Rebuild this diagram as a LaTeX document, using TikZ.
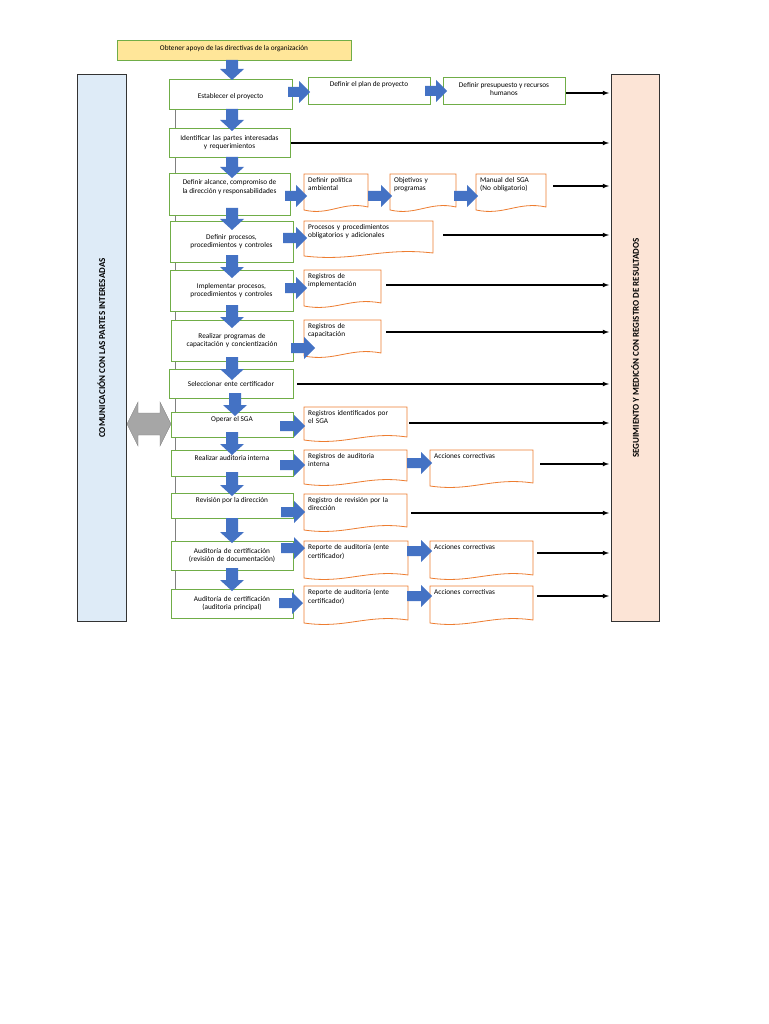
\documentclass[tikz,border=0pt]{standalone}
\usepackage{fontspec}
\setmainfont{Carlito}
\begin{document}
\hyphenpenalty=10000
\begin{tikzpicture}[x=1pt,y=-1pt,
  every node/.style={font=\fontsize{7.3}{8.6}\selectfont,inner sep=1pt}]
\useasboundingbox (0,0) rectangle (768,1024);
\definecolor{bl}{RGB}{68,114,196}
\definecolor{gr}{RGB}{112,173,71}
\definecolor{orr}{RGB}{237,125,49}
\tikzset{gbox/.style={draw=gr,line width=0.8pt,fill=white,align=center},
  docline/.style={draw=orr,line width=0.8pt,fill=white},
  barr/.style={fill=bl,draw=none},
  conn/.style={line width=1.1pt,-latex}}
\newcommand\gb[6]{\draw[gbox] (#2,#3) rectangle (#4,#5);
  \node[align=center,text width={#4-#2-4}] (#1) at ({(#2+#4)/2},{(#3+#5)/2}) {#6};}
\newcommand\dc[6]{\draw[docline] (#2,#5) -- (#2,#3) -- (#4,#3) -- (#4,{#5-3})
  .. controls ({#2+0.6*(#4-#2)},{#5-9}) and ({#2+0.4*(#4-#2)},{#5+6}) .. (#2,#5) -- cycle;
  \node[anchor=north west,align=left,text width={#4-#2-5}] (#1) at ({#2+3},{#3+2}) {#6};}
\newcommand\ha[3]{\fill[barr] (#1,#2-5) -- (#3-11,#2-5) -- (#3-11,#2-11) -- (#3,#2) -- (#3-11,#2+11) -- (#3-11,#2+5) -- (#1,#2+5) -- cycle;}
\newcommand\va[3]{\fill[barr] (#1-6,#2) -- (#1+6,#2) -- (#1+6,#3-11) -- (#1+12,#3-11) -- (#1,#3) -- (#1-12,#3-11) -- (#1-6,#3-11) -- cycle;}
% side bars
\draw[fill={rgb,255:red,222;green,235;blue,247},line width=1pt,draw=black!80] (77,75) rectangle (126,621);
\node[rotate=90,font=\bfseries\fontsize{9}{10}\selectfont] (lb) at (101.5,348) {COMUNICACIÓN CON LAS PARTES INTERESADAS};
\draw[fill={rgb,255:red,252;green,228;blue,214},line width=1pt,draw=black!80] (611,75) rectangle (659,621);
\node[rotate=90,font=\bfseries\fontsize{9}{10}\selectfont] (rb) at (635,348) {SEGUIMIENTO Y MEDICÓN CON REGISTRO DE RESULTADOS};
% thin line
\draw[gray,line width=0.8pt] (175,109) -- (175,589);
% gray double arrow
\fill[gray!70,draw=gray] (127,424) -- (138,402) -- (138,413) -- (160,413) -- (160,402) -- (171,424) -- (160,446) -- (160,435) -- (138,435) -- (138,446) -- cycle;
% top box
\draw[fill={rgb,255:red,255;green,230;blue,153},draw=gr,line width=0.8pt] (117,40) rectangle (351,60);
\node (top) at (234,49) {Obtener apoyo de las directivas de la organización};
% green boxes
\draw[gbox] (169,79) rectangle (292,109); \node (b1) at (230.5,97) {Establecer el proyecto};
\gb{b2}{169}{128}{290}{157}{Identificar las partes interesadas\\y requerimientos}
\draw[gbox] (169,173) rectangle (290,215); \node[align=center] (b3) at (229.5,187) {Definir alcance, compromiso de\\la dirección y responsabilidades};
\gb{b4}{170}{221}{293}{262}{Definir procesos,\\procedimientos y controles}
\gb{b5}{170}{270}{293}{311}{Implementar procesos,\\procedimientos y controles}
\gb{b6}{171}{320}{293}{361}{Realizar programas de\\capacitación y concientización}
\gb{b7}{169}{369}{293}{398}{Seleccionar ente certificador}
\draw[gbox] (171,412) rectangle (293,437); \node (b8) at (232,420) {Operar el SGA};
\draw[gbox] (171,450) rectangle (293,476); \node (b9) at (232,458) {Realizar auditoria interna};
\draw[gbox] (171,493) rectangle (293,518); \node (b10) at (232,501) {Revisión por la dirección};
\gb{b11}{171}{541}{293}{570}{Auditoría de certificación\\(revisión de documentación)}
\gb{b12}{171}{589}{293}{618}{Auditoría de certificación\\(auditoria principal)}
% plan boxes
\draw[gbox] (308,77) rectangle (430,104); \node (p1) at (369,85) {Definir el plan de proyecto};
\draw[gbox] (443,77) rectangle (565,104); \node[align=center] (p2) at (504,89) {Definir presupuesto y recursos\\humanos};
% documents
\dc{d1}{304}{174}{368}{210}{Definir política\\ambiental}
\dc{d2}{390}{174}{456}{210}{Objetivos y\\programas}
\dc{d3}{476}{174}{546}{210}{Manual del SGA\\(No obligatorio)}
\dc{d4}{304}{221}{433}{256}{Procesos y procedimientos\\obligatorios y adicionales}
\dc{d5}{304}{270}{381}{306}{Registros de\\implementación}
\dc{d6}{304}{320}{381}{356}{Registros de\\capacitación}
\dc{d7}{304}{407}{407}{440}{Registros identificados por\\el SGA}
\dc{d8}{304}{450}{407}{484}{Registros de auditoria\\interna}
\dc{d9}{430}{450}{533}{486}{Acciones correctivas}
\dc{d10}{304}{494}{407}{530}{Registro de revisión por la\\dirección}
\dc{d11}{304}{541}{408}{578}{Reporte de auditoría (ente\\certificador)}
\dc{d12}{430}{541}{533}{578}{Acciones correctivas}
\dc{d13}{304}{586}{408}{623}{Reporte de auditoría (ente\\certificador)}
\dc{d14}{430}{586}{533}{623}{Acciones correctivas}
% vertical arrows
\va{232}{60}{80}
\va{232}{109}{131}
\va{232}{157}{178}
\va{232}{208}{230}
\va{232}{255}{278}
\va{232}{305}{328}
\va{232}{357}{380}
\va{235}{393}{416}
\va{232}{432}{455}
\va{232}{472}{496}
\va{232}{518}{543}
\va{232}{568}{591}
% horizontal block arrows
\ha{288}{92}{310}
\ha{425}{91}{447}
\ha{285}{196}{307}
\ha{368}{196}{392}
\ha{454}{196}{478}
\ha{283}{238}{307}
\ha{285}{288}{307}
\ha{291}{348}{315}
\ha{280}{426}{305}
\ha{280}{465}{305}
\ha{407}{463}{432}
\ha{281}{512}{305}
\ha{281}{548}{305}
\ha{407}{551}{432}
\ha{279}{603}{303}
\ha{407}{596}{432}
% connectors to right bar
\coordinate (r1) at (609,93); \draw[conn] (566,93) -- (r1);
\coordinate (r2) at (609,143); \draw[conn] (291,143) -- (r2);
\coordinate (r3) at (609,186); \draw[conn] (553,186) -- (r3);
\coordinate (r4) at (609,235); \draw[conn] (443,235) -- (r4);
\coordinate (r5) at (609,285); \draw[conn] (386,285) -- (r5);
\coordinate (r6) at (609,332); \draw[conn] (386,332) -- (r6);
\coordinate (r7) at (609,384); \draw[conn] (297,384) -- (r7);
\coordinate (r8) at (609,423); \draw[conn] (409,423) -- (r8);
\coordinate (r9) at (609,464); \draw[conn] (540,464) -- (r9);
\coordinate (r10) at (609,513); \draw[conn] (411,513) -- (r10);
\coordinate (r11) at (609,553); \draw[conn] (537,553) -- (r11);
\coordinate (r12) at (609,596); \draw[conn] (537,596) -- (r12);
\end{tikzpicture}
\end{document}
